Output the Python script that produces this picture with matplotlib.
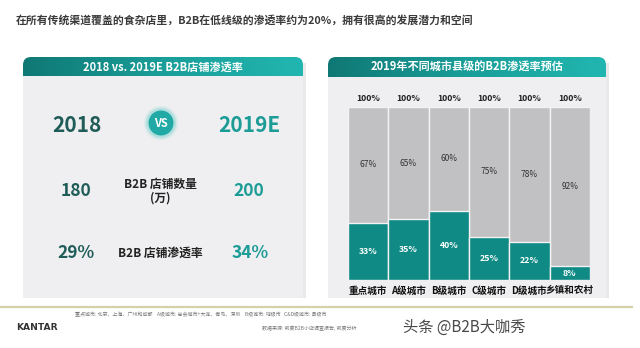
import numpy as np
import matplotlib
matplotlib.use('Agg')
import matplotlib.pyplot as plt
from matplotlib.patches import FancyBboxPatch, Rectangle, Circle
from matplotlib.colors import LinearSegmentedColormap

plt.rcParams['font.family'] = ['Noto Sans CJK SC', 'DejaVu Sans']

# data
title = '在所有传统渠道覆盖的食杂店里，B2B在低线级的渗透率约为20%，拥有很高的发展潜力和空间'
left_header = '2018 vs. 2019E B2B店铺渗透率'
right_header = '2019年不同城市县级的B2B渗透率预估'
years = ['2018', '2019E']
store_count = [180, 200]
store_rate = [29, 34]
cities = ['重点城市', 'A级城市', 'B级城市', 'C级城市', 'D级城市', '乡镇和农村']
b2b_rate = [33, 35, 40, 25, 22, 8]
other_rate = [67, 65, 60, 75, 78, 92]
total = [100, 100, 100, 100, 100, 100]

TEAL = '#0f8a85'
GRAY = '#c1c0c2'
DARK = '#1f5c58'
LIGHT = '#1c9c96'
teal_cmap = LinearSegmentedColormap.from_list('tl', ['#0f7874', '#1a9e99', '#22b6b0'])

fig = plt.figure(figsize=(6.4, 3.48), dpi=100)
fig.patch.set_facecolor('white')

# pixel canvas for the decoration
bg = fig.add_axes([0, 0, 1, 1])
bg.set_xlim(0, 640)
bg.set_ylim(348, 0)
bg.axis('off')

bg.text(16, 20, title, fontsize=7.8, fontweight='bold', color='#3a3a3a', va='center', ha='left')


def panel(x0, x1, y0, y1, head_h, text):
    # soft shadow
    bg.add_patch(Rectangle((x1, y0 + 6), 3, y1 - y0 - 6, color='#e9e9ea', lw=0, zorder=1))
    hdr = FancyBboxPatch((x0, y0), x1 - x0, head_h + 10, boxstyle='round,pad=0,rounding_size=8',
                         fc='none', ec='none', zorder=2)
    bg.add_patch(hdr)
    grad = np.linspace(0, 1, 256).reshape(1, -1)
    im = bg.imshow(grad, cmap=teal_cmap, extent=(x0, x1, y0 + head_h + 10, y0), aspect='auto', zorder=2)
    im.set_clip_path(hdr)
    bg.add_patch(Rectangle((x0, y0 + head_h), x1 - x0, y1 - y0 - head_h, fc='#efeff1', ec='none', zorder=3))
    bg.text((x0 + x1) / 2, y0 + head_h / 2 + 0.5, text, color='white', fontsize=8, fontweight='bold',
            ha='center', va='center', zorder=4)


panel(23, 303, 57, 298, 19, left_header)
panel(328, 606, 57, 298, 20, right_header)
bg.set_xlim(0, 640)
bg.set_ylim(348, 0)

# left panel content
bg.text(77, 125, years[0], fontsize=15, fontweight='bold', color=DARK, ha='center', va='center', zorder=5)
bg.text(249, 125, years[1], fontsize=15, fontweight='bold', color=LIGHT, ha='center', va='center', zorder=5)
for r, a in [(17, 0.12), (15, 0.25)]:
    bg.add_patch(Circle((161, 123), r, color='#3cc3be', alpha=a, lw=0, zorder=4))
bg.add_patch(Circle((161, 123), 12.5, color='#21aaa5', lw=0, zorder=5))
bg.text(161, 123.5, 'VS', fontsize=8, fontweight='bold', color='white', ha='center', va='center', zorder=6)

bg.text(76, 191, str(store_count[0]), fontsize=12.5, fontweight='bold', color=DARK, ha='center', va='center', zorder=5)
bg.text(249, 191, str(store_count[1]), fontsize=12.5, fontweight='bold', color=LIGHT, ha='center', va='center', zorder=5)
bg.text(160, 184, 'B2B 店铺数量', fontsize=8.5, fontweight='bold', color='#222222', ha='center', va='center', zorder=5)
bg.text(160, 198, '(万)', fontsize=8.5, fontweight='bold', color='#222222', ha='center', va='center', zorder=5)

bg.text(76, 253, f'{store_rate[0]}%', fontsize=12.5, fontweight='bold', color=DARK, ha='center', va='center', zorder=5)
bg.text(250, 253, f'{store_rate[1]}%', fontsize=12.5, fontweight='bold', color=LIGHT, ha='center', va='center', zorder=5)
bg.text(160, 253, 'B2B 店铺渗透率', fontsize=8.5, fontweight='bold', color='#222222', ha='center', va='center', zorder=5)

# footer
bg.plot([0, 632], [307, 307], color='#d4d2a4', lw=1.6, zorder=2)
bg.text(75, 314.5, '重点城市: 北京、上海、广州和成都    A级城市: 省会城市+大连、青岛、深圳    B级城市: 地级市   C&D级城市: 县级市',
        fontsize=3.6, color='#777777', ha='left', va='center')
bg.text(16, 328, 'KANTAR', fontsize=6.6, fontweight='bold', color='#333333', ha='left', va='center',
        family='DejaVu Sans')
bg.text(262, 328, '数据来源: 凯度B2B小店调查报告, 凯度分析', fontsize=3.6, color='#777777', ha='left', va='center')
bg.text(403, 327, '头条 @B2B大咖秀', fontsize=11, color='#4a4a4a', ha='left', va='center')

# bar chart
ax = fig.add_axes([348 / 640, (348 - 280) / 348, 242 / 640, 173 / 348], zorder=5)
ax.patch.set_alpha(0)
x = np.arange(len(cities))
ax.bar(x, total, width=1, color=GRAY, edgecolor='#f3f3f3', linewidth=1)
ax.bar(x, b2b_rate, width=1, color=TEAL, edgecolor='#f3f3f3', linewidth=1)
ax.set_xlim(-0.5, len(cities) - 0.5)
ax.set_ylim(0, 100)
ax.axis('off')

for i in range(len(cities)):
    ax.text(x[i], total[i] + 4.8, f'{total[i]}%', fontsize=6.3, fontweight='bold', color='#222222',
            ha='center', va='center', clip_on=False)
    ax.text(x[i], b2b_rate[i] + other_rate[i] / 2, f'{other_rate[i]}%', fontsize=6,
            color='#333333', ha='center', va='center')
    ax.text(x[i], b2b_rate[i] / 2, f'{b2b_rate[i]}%', fontsize=6.3, fontweight='bold',
            color='white', ha='center', va='center')
    ax.text(x[i], -6, cities[i], fontsize=6.9, fontweight='bold', color='#111111',
            ha='center', va='center', clip_on=False)

fig.savefig('out.png', dpi=100)
